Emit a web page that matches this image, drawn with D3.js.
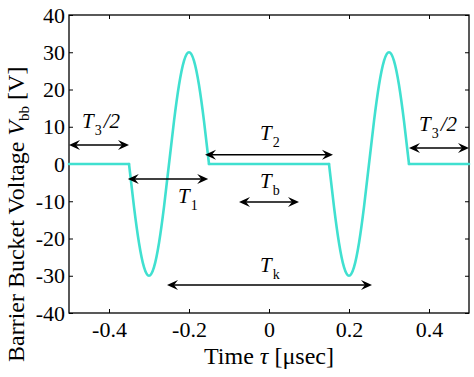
<!DOCTYPE html>
<html><head><meta charset="utf-8">
<script src="https://cdn.jsdelivr.net/npm/d3@7"></script>
<style>body{margin:0;background:#fff} svg{display:block}</style>
</head><body>
<svg id="chart" width="474" height="377"></svg>
<script>
// ---- data ----
const xTicks = [-0.4, -0.2, 0, 0.2, 0.4];
const yTicks = [-40, -30, -20, -10, 0, 10, 20, 30, 40];
const flatStart = [-0.5, -0.15, 0.35];
const flatEnd = [-0.35, 0.15, 0.5];
const wave1Time = [-0.35,-0.3375,-0.325,-0.3125,-0.3,-0.2875,-0.275,-0.2625,-0.25,-0.2375,-0.225,-0.2125,-0.2,-0.1875,-0.175,-0.1625,-0.15];
const wave2Time = [0.15,0.1625,0.175,0.1875,0.2,0.2125,0.225,0.2375,0.25,0.2625,0.275,0.2875,0.3,0.3125,0.325,0.3375,0.35];
const waveVolts = [0,-11.5,-21.2,-27.7,-30,-27.7,-21.2,-11.5,0,11.5,21.2,27.7,30,27.7,21.2,11.5,0];
// annotation arrows (data coordinates)
const arrowStart = [-0.5, -0.353, -0.16, 0.35, -0.075, -0.255];
const arrowEnd   = [-0.35, -0.152, 0.16, 0.5, 0.075, 0.2575];
const arrowLevel = [5.1, -4.0, 2.5, 4.3, -10.2, -32.5];
// annotation labels
const labelMain = ["T", "T", "T", "T", "T", "T"];
const labelSub = ["3", "1", "2", "3", "b", "k"];
const labelTail = ["/2", "", "", "/2", "", ""];
const labelX = [-0.4675, -0.2275, -0.0225, 0.375, -0.0225, -0.0225];
const labelY = [9.7, -10.5, 6.4, 8.9, -6.4, -29];

// ---- layout ----
const FONT = '"Liberation Serif", "Times New Roman", Tinos, serif';
const W = 474, H = 377;
const m = {left: 69, top: 15, right: 5, bottom: 64};
const svg = d3.select("#chart").style("font-family", FONT);
const x = d3.scaleLinear().domain([-0.5, 0.5]).range([m.left, W - m.right]);
const y = d3.scaleLinear().domain([-40, 40]).range([H - m.bottom, m.top]);
const fmt = d => d === 0 ? "0" : String(d);

// axes
const gx = svg.append("g").attr("transform", `translate(0,${H - m.bottom})`)
  .call(d3.axisBottom(x).tickValues(xTicks).tickSize(-4).tickPadding(8).tickFormat(fmt));
const gxt = svg.append("g").attr("transform", `translate(0,${m.top})`)
  .call(d3.axisTop(x).tickValues(xTicks).tickSize(-4).tickFormat(""));
const gy = svg.append("g").attr("transform", `translate(${m.left},0)`)
  .call(d3.axisLeft(y).tickValues(yTicks).tickSize(-4).tickPadding(4).tickFormat(fmt));
const gyr = svg.append("g").attr("transform", `translate(${W - m.right},0)`)
  .call(d3.axisRight(y).tickValues(yTicks).tickSize(-4).tickFormat(""));
[gx, gxt, gy, gyr].forEach(g => {
  g.attr("font-family", null).attr("font-size", null);
  g.select(".domain").remove();
  g.selectAll("line").attr("stroke", "#000").attr("stroke-width", 1);
  g.selectAll("text").attr("fill", "#000")
    .style("font-family", FONT).style("font-size", "22px");
});
svg.append("rect").attr("x", m.left).attr("y", m.top)
  .attr("width", W - m.left - m.right).attr("height", H - m.top - m.bottom)
  .attr("fill", "none").attr("stroke", "#000").attr("stroke-width", 1.3);

// curve
const curveColor = "#40e0d0";
const lineFlat = d3.line().x(d => x(d[0])).y(d => y(d[1]));
flatStart.forEach((s, i) => {
  svg.append("path").attr("d", lineFlat([[s, 0], [flatEnd[i], 0]]))
    .attr("fill", "none").attr("stroke", curveColor).attr("stroke-width", 2.6).attr("stroke-linecap", "round");
});
const lineWave = d3.line().x(d => x(d[0])).y(d => y(d[1])).curve(d3.curveNatural);
[wave1Time, wave2Time].forEach(t => {
  svg.append("path").attr("d", lineWave(t.map((v, i) => [v, waveVolts[i]])))
    .attr("fill", "none").attr("stroke", curveColor).attr("stroke-width", 2.6)
    .attr("stroke-linejoin", "round").attr("stroke-linecap", "round");
});

// arrows
function head(px, py, dir) { // dir: +1 points right, -1 points left
  const L = 11, w = 5, n = 7;
  return `M${px},${py}L${px - dir * L},${py - w}L${px - dir * n},${py}L${px - dir * L},${py + w}Z`;
}
arrowStart.forEach((s, i) => {
  const x1 = x(s), x2 = x(arrowEnd[i]), yy = y(arrowLevel[i]);
  svg.append("line").attr("x1", x1 + 6).attr("x2", x2 - 6).attr("y1", yy).attr("y2", yy)
    .attr("stroke", "#000").attr("stroke-width", 1.5);
  svg.append("path").attr("d", head(x1, yy, -1)).attr("fill", "#000");
  svg.append("path").attr("d", head(x2, yy, 1)).attr("fill", "#000");
});

// labels
labelMain.forEach((t, i) => {
  const tx = svg.append("text").attr("x", x(labelX[i])).attr("y", y(labelY[i]))
    .style("font-family", FONT).style("font-size", "21px");
  tx.append("tspan").style("font-style", "italic").text(t);
  tx.append("tspan").attr("dx", 1).attr("dy", 7).style("font-size", "14px").text(labelSub[i]);
  if (labelTail[i]) tx.append("tspan").attr("dx", 2).attr("dy", -7).style("font-style", "italic").text(labelTail[i]);
});

// axis titles
const xt = svg.append("text").attr("x", (m.left + W - m.right) / 2).attr("y", 364)
  .attr("text-anchor", "middle").style("font-family", FONT).style("font-size", "24px");
xt.append("tspan").text("Time ");
xt.append("tspan").style("font-style", "italic").text("τ");
xt.append("tspan").text(" [μsec]");

const yt = svg.append("text").attr("transform", "translate(24,362) rotate(-90)")
  .attr("text-anchor", "start").style("font-family", FONT).style("font-size", "24px");
yt.append("tspan").text("Barrier Bucket Voltage  ");
yt.append("tspan").style("font-style", "italic").text("V");
yt.append("tspan").attr("dy", 5).style("font-size", "15px").text("bb");
yt.append("tspan").attr("dy", -5).text(" [V]");
</script>
</body></html>
